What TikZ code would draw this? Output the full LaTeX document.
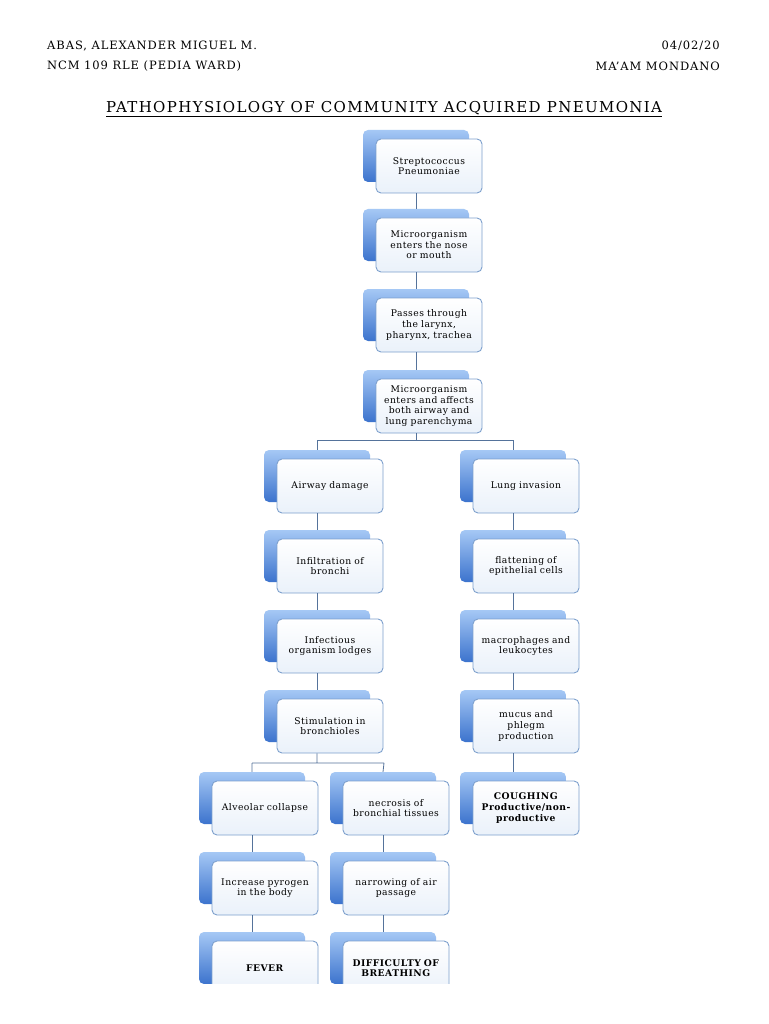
\documentclass[tikz,border=0pt]{standalone}
\usepackage{fontspec}
\setmainfont{DejaVu Serif}
\usetikzlibrary{calc}
\definecolor{btop}{RGB}{165,200,245}
\definecolor{bbot}{RGB}{60,115,205}
\tikzset{x=1pt,y=-1pt,
 backbox/.style={rounded corners=5pt,minimum width=106pt,minimum height=52pt,top color=btop,bottom color=bbot,draw=none},
 frontbox/.style={rounded corners=5pt,draw={rgb,255:red,125;green,160;blue,205},line width=0.9pt,minimum width=106pt,minimum height=54pt,top color=white,bottom color={rgb,255:red,234;green,241;blue,250},align=center,font=\fontsize{9.2}{10.6}\selectfont\addfontfeature{LetterSpace=5},text width=104pt,inner sep=1pt},
 conn/.style={draw={rgb,255:red,85;green,115;blue,155},line width=0.8pt},
 hdr/.style={font=\fontsize{11.5}{13}\selectfont\addfontfeature{LetterSpace=8},inner sep=0pt}}
\newcommand{\mybox}[4]{%
 \node[backbox] (#1b) at (#2-13,#3-10) {};
 \node[frontbox] (#1) at (#2,#3) {#4};}
\begin{document}
\begin{tikzpicture}
\useasboundingbox (0,0) rectangle (768,1024);
\fill[white] (0,0) rectangle (768,1024);
\node[hdr,anchor=west] at (47,46) {ABAS, ALEXANDER MIGUEL M.};
\node[hdr,anchor=west] at (47,66) {NCM 109 RLE (PEDIA WARD)};
\node[hdr,anchor=east] at (720,46) {04/02/20};
\node[hdr,anchor=east] at (720,66) {MA'AM MONDANO};
\node[font=\fontsize{15}{17}\selectfont\addfontfeature{LetterSpace=9},inner sep=0pt] (title) at (384,109) {\underline{PATHOPHYSIOLOGY OF COMMUNITY ACQUIRED PNEUMONIA}};
\begin{scope}
\clip (0,0) rectangle (768,983);
\coordinate (j1) at (416,440);
\coordinate (jl) at (317,440);
\coordinate (jr) at (513,440);
\coordinate (j2) at (317,763);
\coordinate (jll) at (252,763);
\coordinate (jlr) at (384,763);
\mybox{a1}{429}{166}{Streptococcus\\Pneumoniae}
\mybox{a2}{429}{245}{Microorganism\\enters the nose\\or mouth}
\mybox{a3}{429}{325}{Passes through\\the larynx,\\pharynx, trachea}
\mybox{a4}{429}{406}{Microorganism\\enters and affects\\both airway and\\lung parenchyma}
\mybox{l1}{330}{486}{Airway damage}
\mybox{l2}{330}{566}{Infiltration of\\bronchi}
\mybox{l3}{330}{646}{Infectious\\organism lodges}
\mybox{l4}{330}{726}{Stimulation in\\bronchioles}
\mybox{r1}{526}{486}{Lung invasion}
\mybox{r2}{526}{566}{flattening of\\epithelial cells}
\mybox{r3}{526}{646}{macrophages and\\leukocytes}
\mybox{r4}{526}{726}{mucus and\\phlegm\\production}
\mybox{r5}{526}{808}{\textbf{COUGHING}\\\textbf{Productive/non-}\\\textbf{productive}}
\mybox{p1}{265}{808}{Alveolar collapse}
\mybox{p2}{265}{888}{Increase pyrogen\\in the body}
\mybox{p3}{265}{968}{\textbf{FEVER}}
\mybox{q1}{396}{808}{necrosis of\\bronchial tissues}
\mybox{q2}{396}{888}{narrowing of air\\passage}
\mybox{q3}{396}{968}{\textbf{DIFFICULTY OF}\\\textbf{BREATHING}}
\foreach \u/\v in {a1/a2,a2/a3,a3/a4,l1/l2,l2/l3,l3/l4,r1/r2,r2/r3,r3/r4,r4/r5,p1/p2,p2/p3,q1/q2,q2/q3}{
  \path[conn] (\u.south -| \u b.south) -- (\v b.north);
}
\path[conn] (a4.south -| a4b.south) -- (j1) (jl) -- (jr) (jl) -- (l1b.north) (jr) -- (r1b.north);
\path[conn] (l4.south -| l4b.south) -- (j2) (jll) -- (jlr) (jll) -- (p1b.north) (jlr) -- (q1b.north);
\end{scope}
\end{tikzpicture}
\end{document}
